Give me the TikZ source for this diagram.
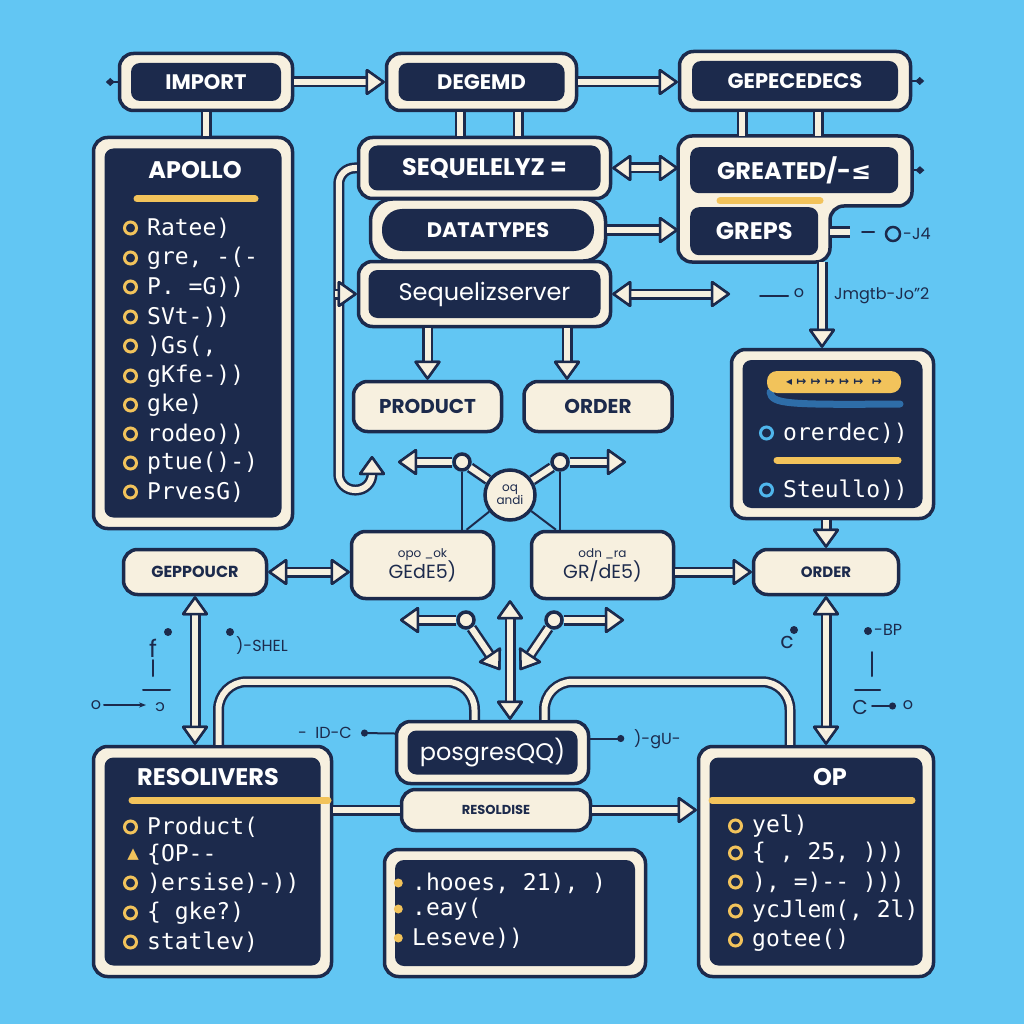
\documentclass[tikz,border=0pt]{standalone}
\usepackage{fontspec}
\setmainfont{Poppins}
\newfontfamily\codefont{DejaVu Sans Mono}
\newfontfamily\sym{DejaVu Sans}
\usetikzlibrary{arrows.meta}

\definecolor{sky}{HTML}{62C6F3}
\definecolor{navy}{HTML}{1C2A4C}
\definecolor{cream}{HTML}{F7F0DF}
\definecolor{accent}{HTML}{F2C35B}
\definecolor{lightblue}{HTML}{4FB6EC}
\definecolor{deepblue}{HTML}{2E6DA8}

\newcommand{\boxfont}{\fontsize{21}{25}\selectfont\bfseries}
\newcommand{\headfont}{\fontsize{24}{28}\selectfont\bfseries}
\newcommand{\itemfont}{\codefont\fontsize{23}{27}\selectfont}
\newcommand{\pillfont}{\fontsize{20}{24}\selectfont\bfseries}
\newcommand{\notefont}{\fontsize{16}{18}\selectfont}

\tikzset{
  parr/.tip={Triangle[length=20pt, width=28pt, fill=cream, color=navy, line width=2.5pt, round]},
  framebox/.style={draw=navy, fill=cream, line width=3.5pt, rounded corners=14pt, inner sep=0pt},
  inner/.style={fill=navy, rounded corners=9pt, text=white, inner sep=0pt},
  pill/.style={framebox, text=navy},
  pipe/.style={draw=cream, line width=6pt, preaction={draw=navy, line width=11pt}},
  link/.style={draw=navy, line width=2pt},
  bar/.style={draw=accent, line width=7pt, line cap=round},
  ring/.style={circle, draw=accent, line width=3pt, fill=navy, minimum size=12pt, inner sep=0pt, xshift=-9pt},
  itemtext/.style={anchor=west, text=white, font=\itemfont, inner sep=0pt},
  item/.style={itemtext, label={[ring]left:{}}},
  bitem/.style={itemtext, label={[ring, draw=lightblue]left:{}}},
  titem/.style={itemtext, label={[text=accent, font=\sym\fontsize{15}{15}\selectfont, inner sep=0pt, xshift=-8pt]left:▲}},
  ditem/.style={itemtext, label={[circle, fill=accent, minimum size=9pt, inner sep=0pt, xshift=-9pt]left:{}}},
  note/.style={text=navy, font=\notefont, inner sep=0pt},
  scrib/.style={draw=navy, line width=2pt, line cap=round},
}

\begin{document}
\begin{tikzpicture}[x=1pt, y=-1pt]
        % canvas
        \fill[sky] (0,0) rectangle (1024,1024);
        \useasboundingbox (0,0) rectangle (1024,1024);
        % top row
        \node[framebox, minimum width=173pt, minimum height=57pt] (importF) at (206,82) {};
        \node[inner, minimum width=150pt, minimum height=38pt, font=\boxfont] (import) at (importF) {IMPORT};
        \node[framebox, minimum width=190pt, minimum height=57pt] (degemdF) at (481.5,82) {};
        \node[inner, minimum width=166pt, minimum height=38pt, font=\boxfont] (degemd) at (degemdF) {DEGEMD};
        \node[framebox, minimum width=231pt, minimum height=59pt] (gepeF) at (795,81) {};
        \node[inner, minimum width=206pt, minimum height=40pt, font=\boxfont] (gepe) at (gepeF) {GEPECEDECS};
        % apollo panel
        \node[framebox, minimum width=199pt, minimum height=391pt] (apolloF) at (193,333) {};
        \node[inner, minimum width=177pt, minimum height=369pt] (apollo) at (apolloF) {};
        \node[text=white, font=\headfont] (apolloT) at (195,170) {APOLLO};
        \draw[bar] (137,199) -- (255,199);
        \node[item] (a1)  at (147,228) {Ratee)};
        \node[item] (a2)  at (147,258) {gre, -(-};
        \node[item] (a3)  at (147,287) {P. =G))};
        \node[item] (a4)  at (147,317) {SVt-))};
        \node[item] (a5)  at (147,346) {)Gs(,};
        \node[item] (a6)  at (147,376) {gKfe-))};
        \node[item] (a7)  at (147,405) {gke)};
        \node[item] (a8)  at (147,434) {rodeo))};
        \node[item] (a9)  at (147,463) {ptue()-)};
        \node[item] (a10) at (147,492) {PrvesG)};
        % sequelize stack
        \node[framebox, minimum width=235pt, minimum height=62pt, rounded corners=22pt] (dataF) at (488,230) {};
        \node[framebox, minimum width=252pt, minimum height=61pt] (seqF) at (484.5,168) {};
        \node[framebox, minimum width=252pt, minimum height=65pt] (servF) at (484.5,294) {};
        \node[inner, minimum width=232pt, minimum height=45pt, font=\headfont] (seq) at (seqF) {SEQUELELYZ =};
        \node[inner, minimum width=212pt, minimum height=42pt, rounded corners=20pt, font=\boxfont] (data) at (dataF) {DATATYPES};
        \node[inner, minimum width=232pt, minimum height=48pt, font=\fontsize{24}{28}\selectfont] (serv) at (servF) {Sequelizserver};
        % greated frame
        \draw[framebox] (678,136) -- (912,136) -- (912,206) -- (830,206) -- (830,262) -- (678,262) -- cycle;
        \coordinate (greNW) at (678,136);
        \coordinate (grepsE) at (830,232);
        \coordinate (grepsS) at (822,262);
        \node[inner, minimum width=208pt, minimum height=46pt, font=\headfont, anchor=north west] (greated) at (690,147) {GREATED/-{\sym ≤}};
        \node[inner, minimum width=128pt, minimum height=48pt, font=\headfont, anchor=north west] (greps) at (690,207) {GREPS};
        \draw[bar] (720,201) -- (820,201);
        % product and order
        \node[pill, minimum width=148pt, minimum height=50pt, font=\pillfont] (product) at (427.5,406.5) {PRODUCT};
        \node[pill, minimum width=148pt, minimum height=50pt, font=\pillfont] (order) at (598,406.5) {ORDER};
        % orerdec panel
        \node[framebox, minimum width=202pt, minimum height=169pt] (orerF) at (832.5,434) {};
        \node[inner, minimum width=180pt, minimum height=148pt] (orer) at (orerF) {};
        \draw[deepblue, line width=7pt, line cap=round] (770,392) .. controls (772,404) and (785,405) .. (900,404);
        \node[fill=accent, rounded corners=10pt, minimum width=134pt, minimum height=22pt, inner sep=0pt, text=navy, font=\sym\bfseries\fontsize{12}{14}\selectfont] (orerHead) at (834,382) {◂ ↦ ↦ ↦ ↦ ↦ \ ↦};
        \node[bitem] (o1) at (783,433) {orerdec))};
        \draw[bar] (777,460) -- (898,460);
        \node[bitem] (o2) at (783,490) {Steullo))};
        % hub and middle row
        \node[pill, circle, minimum size=50pt, font=\fontsize{12}{13}\selectfont, align=center] (hub) at (510,495) {oq\\andi};
        \node[pill, circle, minimum size=16pt] (ballUL) at (462,462) {};
        \node[pill, circle, minimum size=16pt] (ballUR) at (560,462) {};
        \node[pill, circle, minimum size=16pt] (ballLL) at (466,620) {};
        \node[pill, circle, minimum size=16pt] (ballLR) at (554,620) {};
        \coordinate (tipUL) at (398,462);
        \coordinate (tipUR) at (626,462);
        \coordinate (tipLL) at (400,620);
        \coordinate (tipLR) at (624,620);
        \coordinate (tipLLd) at (500,670);
        \coordinate (tipLRd) at (520,670);
        \node[pill, minimum width=143pt, minimum height=45pt, font=\fontsize{16}{19}\selectfont\bfseries] (geppoucr) at (195,572) {GEPPOUCR};
        \node[pill, minimum width=142pt, minimum height=67pt, align=center, font=\fontsize{19}{21}\selectfont] (gede) at (422.5,565) {{\fontsize{12}{12}\selectfont opo \_ok}\\GEdE5)};
        \node[pill, minimum width=142pt, minimum height=67pt, align=center, font=\fontsize{19}{21}\selectfont] (grde) at (602.5,565) {{\fontsize{12}{12}\selectfont odn \_ra}\\GR/dE5)};
        \node[pill, minimum width=145pt, minimum height=45pt, font=\fontsize{15}{18}\selectfont\bfseries] (ordr) at (826,572) {ORDER};
        % resolvers panel
        \node[framebox, minimum width=238pt, minimum height=230pt] (resF) at (212.5,861.5) {};
        \node[inner, minimum width=216pt, minimum height=208pt] (res) at (resF) {};
        \node[text=white, font=\headfont] (resT) at (208,777) {RESOLIVERS};
        \draw[bar] (132,800) -- (328,800);
        \node[item]  (r1) at (147,827) {Product(};
        \node[titem] (r2) at (147,855) {\{OP--};
        \node[item]  (r3) at (147,883) {)ersise)-))};
        \node[item]  (r4) at (147,913) {\{ gke?)};
        \node[item]  (r5) at (147,942) {statlev)};
        % postgres block
        \node[framebox, minimum width=192pt, minimum height=62pt] (posF) at (492.5,752.5) {};
        \node[inner, minimum width=170pt, minimum height=44pt, font=\fontsize{24}{28}\selectfont] (pos) at (posF) {posgresQQ)};
        \node[pill, minimum width=189pt, minimum height=41pt, font=\fontsize{13}{15}\selectfont\bfseries] (rsd) at (496,810) {RESOLDISE};
        \node[framebox, minimum width=261pt, minimum height=127pt] (codeF) at (515,913) {};
        \node[inner, minimum width=240pt, minimum height=106pt] (code) at (codeF) {};
        \node[ditem] (c1) at (412,883) {.hooes, 21), )};
        \node[ditem] (c2) at (412,909) {.eay(};
        \node[ditem] (c3) at (412,938) {Leseve))};
        % op panel
        \node[framebox, minimum width=235pt, minimum height=230pt] (opF) at (816,861.5) {};
        \node[inner, minimum width=213pt, minimum height=208pt] (op) at (opF) {};
        \node[text=white, font=\headfont] (opT) at (830,777) {OP};
        \draw[bar] (712,800) -- (912,800);
        \node[item] (p1) at (752,826) {yel)};
        \node[item] (p2) at (752,853) {\{ , 25, )))};
        \node[item] (p3) at (752,882) {), =)-- )))};
        \node[item] (p4) at (752,911) {ycJlem(, 2l)};
        \node[item] (p5) at (752,940) {gotee()};
        % top connectors
        \draw[scrib, -{Diamond[length=9pt, width=8pt]}] (importF.west) -- ++(-12,0);
        \draw[scrib, -{Diamond[length=9pt, width=8pt]}] (gepeF.east) -- ++(12,0);
        \draw[scrib, -{Diamond[length=9pt, width=8pt]}] ([xshift=14pt]greated.east) -- ++(12,0);
        \draw[pipe, -parr] (importF.east) -- (degemdF.west);
        \draw[pipe, -parr] (degemdF.east) -- (degemdF.east -| gepeF.west);
        \draw[pipe] (importF.south) -- (importF.south |- apolloF.north);
        \draw[pipe] ([xshift=-21.5pt]degemdF.south) -- ([xshift=-21.5pt]degemdF.south |- seqF.north);
        \draw[pipe] ([xshift=36.5pt]degemdF.south) -- ([xshift=36.5pt]degemdF.south |- seqF.north);
        \draw[pipe] ([xshift=-53pt]gepeF.south) -- ([xshift=-53pt]gepeF.south |- greNW);
        \draw[pipe] ([xshift=23pt]gepeF.south) -- ([xshift=23pt]gepeF.south |- greNW);
        % sequelize connectors
        \coordinate (servTip) at (730,294);
        \coordinate (loopTip) at (372,456);
        \draw[pipe, parr-parr] (seqF.east) -- (seqF.east -| greNW);
        \draw[pipe, -parr] (dataF.east) -- (dataF.east -| greNW);
        \draw[pipe, parr-parr] (servF.east) -- (servTip);
        \draw[pipe, -parr, rounded corners=16pt] (seqF.west) -- ++(-18,0) -- ++(0,322) -| (loopTip);
        \draw[pipe, -parr] ([xshift=-22pt]servF.west) -- (servF.west);
        \draw[pipe, -parr] (servF.south -| product) -- (product);
        \draw[pipe, -parr] ([xshift=-31pt]order.north |- servF.south) -- ([xshift=-31pt]order.north);
        % greps side notes
        \draw[pipe] (grepsE) -- ++(20,0);
        \draw[scrib] ([xshift=32pt]grepsE) -- ++(12,0);
        \node[circle, draw=navy, line width=2.5pt, minimum size=14pt, inner sep=0pt] (oJ4) at (893,234) {};
        \node[note, anchor=west] (j4) at (903,234) {-J4};
        \draw[pipe, -parr] (grepsS) -- (grepsS |- orerF.north);
        \draw[scrib] (760,296) -- (788,296);
        \node[note] (jm0) at (799,293) {o};
        \node[note, anchor=west] (jm) at (834,296) {Jmgtb-Jo''2};
        % hub connectors
        \draw[pipe] (hub) -- (ballUL);
        \draw[pipe] (hub) -- (ballUR);
        \draw[pipe, -parr] (ballUL) -- (tipUL);
        \draw[pipe, -parr] (ballUR) -- (tipUR);
        \draw[link] (hub) -- (gede);
        \draw[link] (hub) -- (grde);
        \draw[link] (ballUL) -- (ballUL |- gede.north);
        \draw[link] (ballUR) -- (ballUR |- grde.north);
        \draw[pipe, -parr] (ballLL) -- (tipLL);
        \draw[pipe, -parr] (ballLR) -- (tipLR);
        \draw[pipe, -parr] (ballLL) -- (tipLLd);
        \draw[pipe, -parr] (ballLR) -- (tipLRd);
        \draw[pipe, parr-parr] ([xshift=17.5pt]posF.north) -- ([xshift=17.5pt]posF.north |- gede.south);
        % middle row connectors
        \draw[pipe, parr-parr] (geppoucr.east) -- (geppoucr.east -| gede.west);
        \draw[pipe, -parr] (grde.east |- ordr) -- (ordr.west);
        \draw[pipe, -parr] (orerF.south -| ordr) -- (ordr.north);
        \draw[pipe, parr-parr] (geppoucr.south) -- (geppoucr.south |- resF.north);
        \draw[pipe, parr-parr] (ordr.south) -- (ordr.south |- opF.north);
        % arches to postgres
        \draw[pipe, rounded corners=28pt] ([xshift=6pt]resF.north) -- ++(0,-63) -| ([xshift=-18pt]posF.north);
        \draw[pipe, rounded corners=28pt] ([xshift=52pt]posF.north) -- ++(0,-38) -| ([xshift=-26pt]opF.north);
        \draw[pipe] (rsd.west -| resF.east) -- (rsd.west);
        \draw[pipe, -parr] (rsd.east) -- (rsd.east -| opF.west);
        % scribbled notes
        \node[note, anchor=east] (idn) at (352,733) {-\ \ ID-C};
        \draw[scrib, {Circle[length=7pt]}-] ([xshift=9pt]idn.east) -- ([yshift=19pt]posF.west);
        \draw[scrib, -{Circle[length=7pt]}] ([yshift=14pt]posF.east) -- ++(34,0);
        \node[note, anchor=west] (gun) at (634,739) {)-gU-};
        \fill[navy] (168,632) circle (4pt) (230,632) circle (4pt);
        \node[note, font=\fontsize{24}{26}\selectfont] (fmark) at (153,648) {f};
        \draw[scrib] (153,660) -- (153,676);
        \node[note, anchor=west] (shel) at (236,646) {)-SHEL};
        \draw[scrib] (143,690) -- (170,690);
        \node[note] (o0) at (96,705) {o};
        \draw[scrib, -{Stealth[length=7pt]}] (104,705) -- (146,705);
        \node[note] (j0) at (160,707) {\reflectbox{c}};
        \node[note, font=\fontsize{22}{24}\selectfont] (cm) at (787,642) {c};
        \fill[navy] (794,630) circle (4pt) (868,631) circle (4pt);
        \node[note, anchor=west] (bp) at (874,630) {-BP};
        \draw[scrib] (872,652) -- (872,676);
        \draw[scrib] (855,690) -- (880,690);
        \node[note, font=\fontsize{20}{22}\selectfont] (cc) at (860,707) {C};
        \draw[scrib, -{Circle[length=7pt]}] (872,706) -- (896,706);
        \node[note] (oo) at (908,705) {o};
\end{tikzpicture}
\end{document}
